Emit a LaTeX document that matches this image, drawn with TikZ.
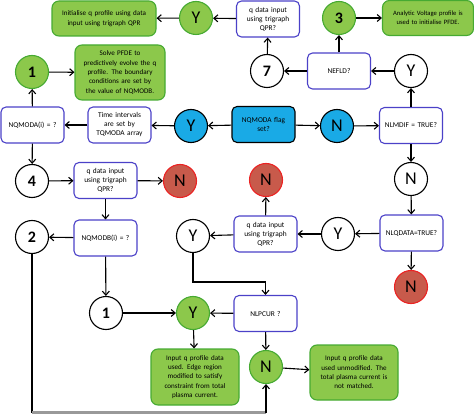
\documentclass[tikz,border=0pt]{standalone}
\usepackage{fontspec}
\setmainfont{Carlito}
\usetikzlibrary{arrows.meta}
\definecolor{gfill}{RGB}{140,200,75}
\definecolor{gline}{RGB}{70,170,50}
\definecolor{bfill}{RGB}{25,170,230}
\definecolor{rfill}{RGB}{200,90,75}
\definecolor{rline}{RGB}{235,35,35}
\definecolor{pline}{RGB}{75,65,200}
\begin{document}
\begin{tikzpicture}[x=1pt,y=-1pt,
  box/.style={rectangle,rounded corners=5pt,draw=pline,line width=1.1pt,fill=white,
    align=center,font=\fontsize{7.4}{9}\selectfont,minimum width=63pt,minimum height=36pt,
    inner sep=1pt,text width=60pt},
  bluebox/.style={box,draw=black,fill=bfill},
  gbox/.style={rectangle,rounded corners=7pt,draw=gline,fill=gfill,line width=1.1pt,
    align=center,font=\fontsize{7.1}{9.3}\selectfont,inner sep=1pt},
  circ/.style={circle,draw=black,line width=1.1pt,minimum size=33pt,inner sep=0pt,
    font=\fontsize{18}{18}\selectfont},
  wc/.style={circ,fill=white},
  gc/.style={circ,draw=gline,fill=gfill},
  bc/.style={circ,draw=black,fill=bfill},
  rc/.style={circ,draw=rline,fill=rfill},
  num/.style={font=\fontsize{16}{16}\selectfont\bfseries},
  arr/.style={draw=black,line width=1.1pt,-{Straight Barb[length=4pt,width=7pt]}},
  ln/.style={draw=black,line width=1.1pt}
]
\useasboundingbox (0,0) rectangle (474,414);

% top row
\node[gbox,minimum width=104pt,minimum height=35pt,text width=100pt] (init) at (104,18.5) {Initialise q profile using data\\input using trigraph QPR};
\node[gc] (ytop) at (196,18) {Y};
\node[box] (qtop) at (268,19) {q data input\\using trigraph\\QPR?};
\node[gc,num] (n3) at (339,18) {3};
\node[gbox,minimum width=91pt,minimum height=35pt,text width=88pt,font=\fontsize{6.6}{9.3}\selectfont] (anal) at (428,18) {Analytic Voltage profile is\\used to initialise PFDE.};

% second row
\node[gc,num] (g1) at (32,72) {1};
\node[gbox,minimum width=90pt,minimum height=55pt,text width=86pt] (pfde) at (120,72.5) {Solve PFDE to\\predictively evolve the q\\profile. The boundary\\conditions are set by\\the value of NQMODB.};
\node[wc,num] (n7) at (267,71) {7};
\node[box] (nefld) at (339,71) {NEFLD?};
\node[wc] (yr) at (411,71) {Y};

% third row
\node[box] (nqa) at (32.5,125) {NQMODA(i) = ?};
\node[box] (time) at (119.5,125) {Time intervals\\are set by\\TQMODA array};
\node[bc] (yb) at (191,126) {Y};
\node[bluebox] (flag) at (263.5,124.5) {NQMODA flag\\set?};
\node[bc] (nb) at (337,126) {N};
\node[box] (nlmdif) at (411,125.5) {NLMDIF = TRUE?};

% fourth row
\node[wc,num] (n4) at (32,181) {4};
\node[box] (q2) at (105.5,180.5) {q data input\\using trigraph\\QPR?};
\node[rc] (nr1) at (180,181) {N};
\node[rc] (nr2) at (266,180) {N};
\node[wc] (nw) at (411,179) {N};

% fifth row
\node[wc,num] (n2) at (32,237) {2};
\node[box] (nqb) at (105.5,238) {NQMODB(i) = ?};
\node[wc] (ya) at (193,236) {Y};
\node[box] (q3) at (265.5,234) {q data input\\using trigraph\\QPR?};
\node[wc] (yc) at (338,234) {Y};
\node[box] (nlq) at (411.5,233) {NLQDATA=TRUE?};

% sixth row
\node[rc] (nr3) at (411,287) {N};
\node[wc,num] (w1) at (106,313) {1};
\node[gc] (yg) at (193,313) {Y};
\node[box] (nlpcur) at (265.5,313.5) {NLPCUR ?};
\node[gc] (ng) at (266,367) {N};
\node[gbox,minimum width=88pt,minimum height=56pt,text width=84pt] (edge) at (195,377) {Input q profile data\\used. Edge region\\modified to satisfy\\constraint from total\\plasma current.};
\node[gbox,minimum width=88pt,minimum height=55pt,text width=84pt] (unmod) at (354,372.5) {Input q profile data\\used unmodified. The\\total plasma current is\\not matched.};

% connectors
\draw[arr] (qtop) -- (ytop);
\draw[arr] (ytop) -- (init);
\draw[arr] (n7) -- (qtop);
\draw[arr] (nefld) -- (n7);
\draw[arr] (nefld) -- (n3);
\draw[arr] (n3) -- (anal);
\draw[arr] (yr) -- (nefld);
\draw[arr] (nlmdif) -- (yr);
\draw[arr] (flag) -- (nb);
\draw[arr] (nb) -- (nlmdif);
\draw[arr] (flag) -- (yb);
\draw[arr] (yb) -- (time);
\draw[arr] (time) -- (nqa);
\draw[arr] (nqa) -- (g1);
\draw[arr] (g1) -- (pfde);
\draw[arr] (nqa) -- (n4);
\draw[arr] (n4) -- (q2);
\draw[arr] (q2) -- (nr1);
\draw[arr] (q2) -- (nqb);
\draw[arr] (nqb) -- (n2);
\draw[arr] (nqb) -- (w1);
\draw[arr] (nlmdif) -- (nw);
\draw[arr] (nw) -- (nlq);
\draw[arr] (nlq) -- (nr3);
\draw[arr] (nlq) -- (yc);
\draw[arr] (yc) -- (q3);
\draw[arr] (q3) -- (ya);
\draw[arr] (q3) -- (nr2);
\coordinate (kink) at (193,282);
\draw[arr] (ya) -- (kink) -| (nlpcur);
\draw[arr] (nlpcur) -- (yg);
\draw[arr] (w1) -- (yg);
\draw[arr] (yg) -- (edge);
\draw[arr] (nlpcur) -- (ng);
\draw[arr] (ng) -- (unmod);
\coordinate (bl) at (32,412.5);
\coordinate (br) at (266,412.5);
\draw[ln] (n2) -- (bl);
\draw[draw=gray!80,line width=2.2pt] (bl) -- (br);
\draw[arr] (br) -- (ng);
\end{tikzpicture}
\end{document}
